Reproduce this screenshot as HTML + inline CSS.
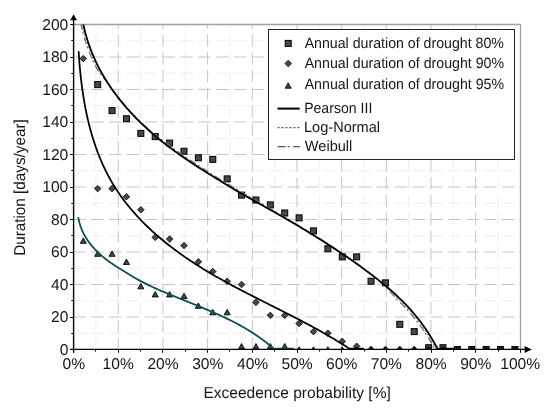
<!DOCTYPE html>
<html><head><meta charset="utf-8"><title>Exceedence probability chart</title>
<style>html,body{margin:0;padding:0;background:#fff;} svg{display:block;}</style></head>
<body>
<svg width="550" height="411" viewBox="0 0 550 411">
<defs><clipPath id="pc"><rect x="74" y="24.5" width="446.5" height="325"/></clipPath>
<clipPath id="pm"><rect x="74" y="24.5" width="446.5" height="324.5"/></clipPath></defs>
<rect width="550" height="411" fill="#fff"/>
<line x1="95.93" y1="24.5" x2="95.93" y2="349" stroke="#eeeeee" stroke-width="1" stroke-dasharray="12.5 5.35" stroke-dashoffset="8.15"/>
<line x1="140.6" y1="24.5" x2="140.6" y2="349" stroke="#eeeeee" stroke-width="1" stroke-dasharray="12.5 5.35" stroke-dashoffset="8.15"/>
<line x1="185.27" y1="24.5" x2="185.27" y2="349" stroke="#eeeeee" stroke-width="1" stroke-dasharray="12.5 5.35" stroke-dashoffset="8.15"/>
<line x1="229.94" y1="24.5" x2="229.94" y2="349" stroke="#eeeeee" stroke-width="1" stroke-dasharray="12.5 5.35" stroke-dashoffset="8.15"/>
<line x1="274.62" y1="24.5" x2="274.62" y2="349" stroke="#eeeeee" stroke-width="1" stroke-dasharray="12.5 5.35" stroke-dashoffset="8.15"/>
<line x1="319.28" y1="24.5" x2="319.28" y2="349" stroke="#eeeeee" stroke-width="1" stroke-dasharray="12.5 5.35" stroke-dashoffset="8.15"/>
<line x1="363.95" y1="24.5" x2="363.95" y2="349" stroke="#eeeeee" stroke-width="1" stroke-dasharray="12.5 5.35" stroke-dashoffset="8.15"/>
<line x1="408.62" y1="24.5" x2="408.62" y2="349" stroke="#eeeeee" stroke-width="1" stroke-dasharray="12.5 5.35" stroke-dashoffset="8.15"/>
<line x1="453.29" y1="24.5" x2="453.29" y2="349" stroke="#eeeeee" stroke-width="1" stroke-dasharray="12.5 5.35" stroke-dashoffset="8.15"/>
<line x1="497.96" y1="24.5" x2="497.96" y2="349" stroke="#eeeeee" stroke-width="1" stroke-dasharray="12.5 5.35" stroke-dashoffset="8.15"/>
<line x1="73.3" y1="333.25" x2="520" y2="333.25" stroke="#eeeeee" stroke-width="1" stroke-dasharray="12.5 5.35"/>
<line x1="73.3" y1="300.75" x2="520" y2="300.75" stroke="#eeeeee" stroke-width="1" stroke-dasharray="12.5 5.35"/>
<line x1="73.3" y1="268.25" x2="520" y2="268.25" stroke="#eeeeee" stroke-width="1" stroke-dasharray="12.5 5.35"/>
<line x1="73.3" y1="235.75" x2="520" y2="235.75" stroke="#eeeeee" stroke-width="1" stroke-dasharray="12.5 5.35"/>
<line x1="73.3" y1="203.25" x2="520" y2="203.25" stroke="#eeeeee" stroke-width="1" stroke-dasharray="12.5 5.35"/>
<line x1="73.3" y1="170.75" x2="520" y2="170.75" stroke="#eeeeee" stroke-width="1" stroke-dasharray="12.5 5.35"/>
<line x1="73.3" y1="138.25" x2="520" y2="138.25" stroke="#eeeeee" stroke-width="1" stroke-dasharray="12.5 5.35"/>
<line x1="73.3" y1="105.75" x2="520" y2="105.75" stroke="#eeeeee" stroke-width="1" stroke-dasharray="12.5 5.35"/>
<line x1="73.3" y1="73.25" x2="520" y2="73.25" stroke="#eeeeee" stroke-width="1" stroke-dasharray="12.5 5.35"/>
<line x1="73.3" y1="40.75" x2="520" y2="40.75" stroke="#eeeeee" stroke-width="1" stroke-dasharray="12.5 5.35"/>
<line x1="118.27" y1="24.5" x2="118.27" y2="349" stroke="#c6c6c6" stroke-width="1" stroke-dasharray="12.5 5.35" stroke-dashoffset="8.15"/>
<line x1="162.94" y1="24.5" x2="162.94" y2="349" stroke="#c6c6c6" stroke-width="1" stroke-dasharray="12.5 5.35" stroke-dashoffset="8.15"/>
<line x1="207.61" y1="24.5" x2="207.61" y2="349" stroke="#c6c6c6" stroke-width="1" stroke-dasharray="12.5 5.35" stroke-dashoffset="8.15"/>
<line x1="252.28" y1="24.5" x2="252.28" y2="349" stroke="#c6c6c6" stroke-width="1" stroke-dasharray="12.5 5.35" stroke-dashoffset="8.15"/>
<line x1="296.95" y1="24.5" x2="296.95" y2="349" stroke="#c6c6c6" stroke-width="1" stroke-dasharray="12.5 5.35" stroke-dashoffset="8.15"/>
<line x1="341.62" y1="24.5" x2="341.62" y2="349" stroke="#c6c6c6" stroke-width="1" stroke-dasharray="12.5 5.35" stroke-dashoffset="8.15"/>
<line x1="386.29" y1="24.5" x2="386.29" y2="349" stroke="#c6c6c6" stroke-width="1" stroke-dasharray="12.5 5.35" stroke-dashoffset="8.15"/>
<line x1="430.96" y1="24.5" x2="430.96" y2="349" stroke="#c6c6c6" stroke-width="1" stroke-dasharray="12.5 5.35" stroke-dashoffset="8.15"/>
<line x1="475.63" y1="24.5" x2="475.63" y2="349" stroke="#c6c6c6" stroke-width="1" stroke-dasharray="12.5 5.35" stroke-dashoffset="8.15"/>
<line x1="73.3" y1="317.0" x2="520" y2="317.0" stroke="#c6c6c6" stroke-width="1" stroke-dasharray="12.5 5.35"/>
<line x1="73.3" y1="284.5" x2="520" y2="284.5" stroke="#c6c6c6" stroke-width="1" stroke-dasharray="12.5 5.35"/>
<line x1="73.3" y1="252.0" x2="520" y2="252.0" stroke="#c6c6c6" stroke-width="1" stroke-dasharray="12.5 5.35"/>
<line x1="73.3" y1="219.5" x2="520" y2="219.5" stroke="#c6c6c6" stroke-width="1" stroke-dasharray="12.5 5.35"/>
<line x1="73.3" y1="187.0" x2="520" y2="187.0" stroke="#c6c6c6" stroke-width="1" stroke-dasharray="12.5 5.35"/>
<line x1="73.3" y1="154.5" x2="520" y2="154.5" stroke="#c6c6c6" stroke-width="1" stroke-dasharray="12.5 5.35"/>
<line x1="73.3" y1="122.0" x2="520" y2="122.0" stroke="#c6c6c6" stroke-width="1" stroke-dasharray="12.5 5.35"/>
<line x1="73.3" y1="89.5" x2="520" y2="89.5" stroke="#c6c6c6" stroke-width="1" stroke-dasharray="12.5 5.35"/>
<line x1="73.3" y1="57.0" x2="520" y2="57.0" stroke="#c6c6c6" stroke-width="1" stroke-dasharray="12.5 5.35"/>
<line x1="73.5" y1="24.5" x2="521" y2="24.5" stroke="#a0a0a0" stroke-width="1.3"/>
<line x1="520.5" y1="24" x2="520.5" y2="349.5" stroke="#a0a0a0" stroke-width="1.3"/>
<g clip-path="url(#pm)">
<rect x="94.68" y="81.62" width="6" height="6" fill="#484848" stroke="#000" stroke-width="1"/>
<rect x="109.06" y="107.62" width="6" height="6" fill="#484848" stroke="#000" stroke-width="1"/>
<rect x="123.45" y="115.75" width="6" height="6" fill="#484848" stroke="#000" stroke-width="1"/>
<rect x="137.84" y="130.38" width="6" height="6" fill="#484848" stroke="#000" stroke-width="1"/>
<rect x="152.23" y="133.62" width="6" height="6" fill="#484848" stroke="#000" stroke-width="1"/>
<rect x="166.62" y="140.12" width="6" height="6" fill="#484848" stroke="#000" stroke-width="1"/>
<rect x="181.00" y="148.25" width="6" height="6" fill="#484848" stroke="#000" stroke-width="1"/>
<rect x="195.39" y="154.75" width="6" height="6" fill="#484848" stroke="#000" stroke-width="1"/>
<rect x="209.78" y="156.38" width="6" height="6" fill="#484848" stroke="#000" stroke-width="1"/>
<rect x="224.17" y="175.88" width="6" height="6" fill="#484848" stroke="#000" stroke-width="1"/>
<rect x="238.56" y="192.12" width="6" height="6" fill="#484848" stroke="#000" stroke-width="1"/>
<rect x="252.94" y="197.00" width="6" height="6" fill="#484848" stroke="#000" stroke-width="1"/>
<rect x="267.33" y="201.88" width="6" height="6" fill="#484848" stroke="#000" stroke-width="1"/>
<rect x="281.72" y="210.00" width="6" height="6" fill="#484848" stroke="#000" stroke-width="1"/>
<rect x="296.11" y="214.88" width="6" height="6" fill="#484848" stroke="#000" stroke-width="1"/>
<rect x="310.50" y="227.88" width="6" height="6" fill="#484848" stroke="#000" stroke-width="1"/>
<rect x="324.88" y="245.75" width="6" height="6" fill="#484848" stroke="#000" stroke-width="1"/>
<rect x="339.27" y="253.88" width="6" height="6" fill="#484848" stroke="#000" stroke-width="1"/>
<rect x="353.66" y="253.88" width="6" height="6" fill="#484848" stroke="#000" stroke-width="1"/>
<rect x="368.05" y="278.25" width="6" height="6" fill="#484848" stroke="#000" stroke-width="1"/>
<rect x="382.44" y="279.88" width="6" height="6" fill="#484848" stroke="#000" stroke-width="1"/>
<rect x="396.82" y="321.31" width="6" height="6" fill="#484848" stroke="#000" stroke-width="1"/>
<rect x="411.21" y="328.62" width="6" height="6" fill="#484848" stroke="#000" stroke-width="1"/>
<rect x="425.60" y="344.71" width="6" height="6" fill="#484848" stroke="#000" stroke-width="1"/>
<rect x="439.99" y="344.71" width="6" height="6" fill="#484848" stroke="#000" stroke-width="1"/>
<rect x="454.38" y="346.50" width="6" height="6" fill="#484848" stroke="#000" stroke-width="1"/>
<rect x="468.76" y="346.50" width="6" height="6" fill="#484848" stroke="#000" stroke-width="1"/>
<rect x="483.15" y="346.50" width="6" height="6" fill="#484848" stroke="#000" stroke-width="1"/>
<rect x="497.54" y="346.50" width="6" height="6" fill="#484848" stroke="#000" stroke-width="1"/>
<rect x="511.93" y="346.50" width="6" height="6" fill="#484848" stroke="#000" stroke-width="1"/>
<path d="M83.29,55.38 L86.54,58.62 L83.29,61.88 L80.04,58.62 Z" fill="#484848" stroke="#111" stroke-width="0.9"/>
<path d="M97.68,185.38 L100.93,188.62 L97.68,191.88 L94.43,188.62 Z" fill="#484848" stroke="#111" stroke-width="0.9"/>
<path d="M112.06,185.38 L115.31,188.62 L112.06,191.88 L108.81,188.62 Z" fill="#484848" stroke="#111" stroke-width="0.9"/>
<path d="M126.45,193.50 L129.70,196.75 L126.45,200.00 L123.20,196.75 Z" fill="#484848" stroke="#111" stroke-width="0.9"/>
<path d="M140.84,206.50 L144.09,209.75 L140.84,213.00 L137.59,209.75 Z" fill="#484848" stroke="#111" stroke-width="0.9"/>
<path d="M155.23,234.12 L158.48,237.38 L155.23,240.62 L151.98,237.38 Z" fill="#484848" stroke="#111" stroke-width="0.9"/>
<path d="M169.62,235.75 L172.87,239.00 L169.62,242.25 L166.37,239.00 Z" fill="#484848" stroke="#111" stroke-width="0.9"/>
<path d="M184.00,242.25 L187.25,245.50 L184.00,248.75 L180.75,245.50 Z" fill="#484848" stroke="#111" stroke-width="0.9"/>
<path d="M198.39,258.50 L201.64,261.75 L198.39,265.00 L195.14,261.75 Z" fill="#484848" stroke="#111" stroke-width="0.9"/>
<path d="M212.78,268.25 L216.03,271.50 L212.78,274.75 L209.53,271.50 Z" fill="#484848" stroke="#111" stroke-width="0.9"/>
<path d="M227.17,278.00 L230.42,281.25 L227.17,284.50 L223.92,281.25 Z" fill="#484848" stroke="#111" stroke-width="0.9"/>
<path d="M241.56,281.25 L244.81,284.50 L241.56,287.75 L238.31,284.50 Z" fill="#484848" stroke="#111" stroke-width="0.9"/>
<path d="M255.94,299.12 L259.19,302.38 L255.94,305.62 L252.69,302.38 Z" fill="#484848" stroke="#111" stroke-width="0.9"/>
<path d="M270.33,312.12 L273.58,315.38 L270.33,318.62 L267.08,315.38 Z" fill="#484848" stroke="#111" stroke-width="0.9"/>
<path d="M284.72,312.12 L287.97,315.38 L284.72,318.62 L281.47,315.38 Z" fill="#484848" stroke="#111" stroke-width="0.9"/>
<path d="M299.11,320.25 L302.36,323.50 L299.11,326.75 L295.86,323.50 Z" fill="#484848" stroke="#111" stroke-width="0.9"/>
<path d="M313.50,328.38 L316.75,331.62 L313.50,334.88 L310.25,331.62 Z" fill="#484848" stroke="#111" stroke-width="0.9"/>
<path d="M327.88,330.00 L331.13,333.25 L327.88,336.50 L324.63,333.25 Z" fill="#484848" stroke="#111" stroke-width="0.9"/>
<path d="M342.27,338.12 L345.52,341.38 L342.27,344.62 L339.02,341.38 Z" fill="#484848" stroke="#111" stroke-width="0.9"/>
<path d="M356.66,343.00 L359.91,346.25 L356.66,349.50 L353.41,346.25 Z" fill="#484848" stroke="#111" stroke-width="0.9"/>
<path d="M371.05,346.25 L374.30,349.50 L371.05,352.75 L367.80,349.50 Z" fill="#484848" stroke="#111" stroke-width="0.9"/>
<path d="M385.44,346.25 L388.69,349.50 L385.44,352.75 L382.19,349.50 Z" fill="#484848" stroke="#111" stroke-width="0.9"/>
<path d="M399.82,346.25 L403.07,349.50 L399.82,352.75 L396.57,349.50 Z" fill="#484848" stroke="#111" stroke-width="0.9"/>
<path d="M414.21,346.25 L417.46,349.50 L414.21,352.75 L410.96,349.50 Z" fill="#484848" stroke="#111" stroke-width="0.9"/>
<path d="M428.60,346.25 L431.85,349.50 L428.60,352.75 L425.35,349.50 Z" fill="#484848" stroke="#111" stroke-width="0.9"/>
<path d="M442.99,346.25 L446.24,349.50 L442.99,352.75 L439.74,349.50 Z" fill="#484848" stroke="#111" stroke-width="0.9"/>
<path d="M457.38,346.25 L460.63,349.50 L457.38,352.75 L454.13,349.50 Z" fill="#484848" stroke="#111" stroke-width="0.9"/>
<path d="M471.76,346.25 L475.01,349.50 L471.76,352.75 L468.51,349.50 Z" fill="#484848" stroke="#111" stroke-width="0.9"/>
<path d="M486.15,346.25 L489.40,349.50 L486.15,352.75 L482.90,349.50 Z" fill="#484848" stroke="#111" stroke-width="0.9"/>
<path d="M500.54,346.25 L503.79,349.50 L500.54,352.75 L497.29,349.50 Z" fill="#484848" stroke="#111" stroke-width="0.9"/>
<path d="M514.93,346.25 L518.18,349.50 L514.93,352.75 L511.68,349.50 Z" fill="#484848" stroke="#111" stroke-width="0.9"/>
<path d="M83.29,237.93 L86.29,243.32 L80.29,243.32 Z" fill="#484848" stroke="#000" stroke-width="0.9"/>
<path d="M97.68,250.93 L100.68,256.32 L94.68,256.32 Z" fill="#484848" stroke="#000" stroke-width="0.9"/>
<path d="M112.06,250.93 L115.06,256.32 L109.06,256.32 Z" fill="#484848" stroke="#000" stroke-width="0.9"/>
<path d="M126.45,259.05 L129.45,264.45 L123.45,264.45 Z" fill="#484848" stroke="#000" stroke-width="0.9"/>
<path d="M140.84,283.43 L143.84,288.82 L137.84,288.82 Z" fill="#484848" stroke="#000" stroke-width="0.9"/>
<path d="M155.23,291.55 L158.23,296.95 L152.23,296.95 Z" fill="#484848" stroke="#000" stroke-width="0.9"/>
<path d="M169.62,291.55 L172.62,296.95 L166.62,296.95 Z" fill="#484848" stroke="#000" stroke-width="0.9"/>
<path d="M184.00,293.18 L187.00,298.57 L181.00,298.57 Z" fill="#484848" stroke="#000" stroke-width="0.9"/>
<path d="M198.39,302.93 L201.39,308.32 L195.39,308.32 Z" fill="#484848" stroke="#000" stroke-width="0.9"/>
<path d="M212.78,309.43 L215.78,314.82 L209.78,314.82 Z" fill="#484848" stroke="#000" stroke-width="0.9"/>
<path d="M227.17,309.43 L230.17,314.82 L224.17,314.82 Z" fill="#484848" stroke="#000" stroke-width="0.9"/>
<path d="M241.56,343.55 L244.56,348.95 L238.56,348.95 Z" fill="#484848" stroke="#000" stroke-width="0.9"/>
<path d="M255.94,343.55 L258.94,348.95 L252.94,348.95 Z" fill="#484848" stroke="#000" stroke-width="0.9"/>
<path d="M270.33,343.55 L273.33,348.95 L267.33,348.95 Z" fill="#484848" stroke="#000" stroke-width="0.9"/>
<path d="M284.72,343.55 L287.72,348.95 L281.72,348.95 Z" fill="#484848" stroke="#000" stroke-width="0.9"/>
<path d="M299.11,346.80 L302.11,352.20 L296.11,352.20 Z" fill="#484848" stroke="#000" stroke-width="0.9"/>
<path d="M313.50,346.80 L316.50,352.20 L310.50,352.20 Z" fill="#484848" stroke="#000" stroke-width="0.9"/>
<path d="M327.88,346.80 L330.88,352.20 L324.88,352.20 Z" fill="#484848" stroke="#000" stroke-width="0.9"/>
<path d="M342.27,346.80 L345.27,352.20 L339.27,352.20 Z" fill="#484848" stroke="#000" stroke-width="0.9"/>
<path d="M356.66,346.80 L359.66,352.20 L353.66,352.20 Z" fill="#484848" stroke="#000" stroke-width="0.9"/>
<path d="M371.05,346.80 L374.05,352.20 L368.05,352.20 Z" fill="#484848" stroke="#000" stroke-width="0.9"/>
<path d="M385.44,346.80 L388.44,352.20 L382.44,352.20 Z" fill="#484848" stroke="#000" stroke-width="0.9"/>
<path d="M399.82,346.80 L402.82,352.20 L396.82,352.20 Z" fill="#484848" stroke="#000" stroke-width="0.9"/>
<path d="M414.21,346.80 L417.21,352.20 L411.21,352.20 Z" fill="#484848" stroke="#000" stroke-width="0.9"/>
<path d="M428.60,346.80 L431.60,352.20 L425.60,352.20 Z" fill="#484848" stroke="#000" stroke-width="0.9"/>
<path d="M442.99,346.80 L445.99,352.20 L439.99,352.20 Z" fill="#484848" stroke="#000" stroke-width="0.9"/>
<path d="M457.38,346.80 L460.38,352.20 L454.38,352.20 Z" fill="#484848" stroke="#000" stroke-width="0.9"/>
<path d="M471.76,346.80 L474.76,352.20 L468.76,352.20 Z" fill="#484848" stroke="#000" stroke-width="0.9"/>
<path d="M486.15,346.80 L489.15,352.20 L483.15,352.20 Z" fill="#484848" stroke="#000" stroke-width="0.9"/>
<path d="M500.54,346.80 L503.54,352.20 L497.54,352.20 Z" fill="#484848" stroke="#000" stroke-width="0.9"/>
<path d="M514.93,346.80 L517.93,352.20 L511.93,352.20 Z" fill="#484848" stroke="#000" stroke-width="0.9"/>
</g>
<g clip-path="url(#pc)" fill="none" stroke-linejoin="round" stroke-linecap="round">
<path d="M81.76,22.72 L82.22,24.99 L82.70,27.27 L83.22,29.53 L83.78,31.78 L84.36,34.01 L84.97,36.23 L85.62,38.44 L86.29,40.63 L86.99,42.82 L87.72,44.98 L88.49,47.14 L89.27,49.28 L90.09,51.41 L90.94,53.52 L91.81,55.62 L92.71,57.71 L93.64,59.78 L94.59,61.84 L95.57,63.89 L96.57,65.92 L97.63,67.92 L98.76,69.89 L99.95,71.82 L101.18,73.72 L102.44,75.60 L103.73,77.46 L105.03,79.31 L106.34,81.15 L107.65,82.98 L108.95,84.82 L110.24,86.67 L111.53,88.51 L112.85,90.33 L114.18,92.15 L115.53,93.95 L116.90,95.74 L118.28,97.51 L119.68,99.28 L121.10,101.03 L122.54,102.77 L123.99,104.49 L125.46,106.20 L126.94,107.90 L128.44,109.58 L129.96,111.25 L131.49,112.91 L133.04,114.55 L134.60,116.18 L136.18,117.79 L137.77,119.39 L139.38,120.98 L141.00,122.55 L142.63,124.10 L144.28,125.64 L145.94,127.17 L147.61,128.68 L149.30,130.18 L151.00,131.65 L152.71,133.11 L154.44,134.55 L156.17,135.98 L157.92,137.39 L159.68,138.79 L161.44,140.17 L163.21,141.54 L164.99,142.90 L166.78,144.26 L168.57,145.60 L170.36,146.93 L172.16,148.26 L173.96,149.58 L175.77,150.90 L177.58,152.20 L179.40,153.50 L181.23,154.78 L183.07,156.06 L184.91,157.33 L186.76,158.59 L188.61,159.84 L190.47,161.09 L192.34,162.33 L194.21,163.56 L196.08,164.79 L197.96,166.01 L199.85,167.22 L201.74,168.44 L203.64,169.64 L205.54,170.85 L207.44,172.05 L209.35,173.25 L211.26,174.44 L213.17,175.64 L215.09,176.83 L217.01,178.02 L218.93,179.21 L220.86,180.39 L222.79,181.58 L224.72,182.76 L226.65,183.93 L228.59,185.11 L230.53,186.28 L232.47,187.44 L234.42,188.61 L236.37,189.76 L238.32,190.91 L240.27,192.06 L242.23,193.20 L244.19,194.33 L246.15,195.46 L248.12,196.58 L250.09,197.70 L252.06,198.81 L254.03,199.92 L256.00,201.04 L257.97,202.15 L259.94,203.26 L261.91,204.37 L263.88,205.49 L265.85,206.60 L267.82,207.72 L269.79,208.85 L271.75,209.97 L273.71,211.10 L275.67,212.23 L277.63,213.37 L279.59,214.51 L281.54,215.65 L283.50,216.80 L285.45,217.94 L287.40,219.09 L289.34,220.25 L291.29,221.40 L293.23,222.56 L295.18,223.73 L297.12,224.89 L299.05,226.06 L300.99,227.23 L302.93,228.40 L304.86,229.58 L306.79,230.76 L308.72,231.94 L310.65,233.12 L312.57,234.31 L314.50,235.51 L316.42,236.70 L318.33,237.91 L320.25,239.11 L322.16,240.32 L324.07,241.54 L325.97,242.76 L327.87,243.98 L329.77,245.21 L331.67,246.45 L333.56,247.69 L335.45,248.93 L337.33,250.18 L339.21,251.44 L341.09,252.70 L342.97,253.97 L344.84,255.25 L346.70,256.53 L348.56,257.81 L350.42,259.11 L352.28,260.41 L354.12,261.71 L355.97,263.02 L357.81,264.34 L359.64,265.67 L361.47,267.01 L363.30,268.35 L365.12,269.70 L366.93,271.06 L368.73,272.43 L370.52,273.82 L372.30,275.23 L374.06,276.65 L375.82,278.09 L377.56,279.54 L379.29,281.00 L381.01,282.47 L382.72,283.95 L384.42,285.44 L386.09,286.95 L387.75,288.49 L389.37,290.05 L390.98,291.62 L392.57,293.21 L394.16,294.81 L395.73,296.41 L397.30,298.00 L398.88,299.59 L400.47,301.16 L402.05,302.73 L403.62,304.32 L405.16,305.92 L406.69,307.54 L408.20,309.17 L409.69,310.83 L411.16,312.50 L412.60,314.19 L414.03,315.89 L415.44,317.61 L416.83,319.35 L418.19,321.11 L419.54,322.88 L420.87,324.68 L422.17,326.48 L423.46,328.31 L424.73,330.15 L425.97,332.00 L427.20,333.87 L428.41,335.76 L429.61,337.66 L430.78,339.57 L431.94,341.50 L433.08,343.44 L434.20,345.40 L435.30,347.37 L436.39,349.37 L452,348.8" stroke="#7a7a7a" stroke-width="1" stroke-linecap="butt" stroke-dasharray="2 2"/>
<path d="M80.75,22.92 L81.20,25.20 L81.69,27.49 L82.22,29.77 L82.77,32.03 L83.36,34.28 L83.98,36.52 L84.62,38.74 L85.30,40.95 L86.01,43.14 L86.75,45.32 L87.51,47.49 L88.31,49.64 L89.13,51.78 L89.98,53.91 L90.86,56.02 L91.76,58.12 L92.69,60.21 L93.65,62.28 L94.64,64.34 L95.65,66.38 L96.74,68.38 L97.94,70.32 L99.22,72.22 L100.56,74.07 L101.94,75.89 L103.35,77.69 L104.77,79.47 L106.18,81.25 L107.57,83.03 L108.93,84.84 L110.24,86.66 L111.56,88.49 L112.90,90.30 L114.25,92.10 L115.61,93.89 L116.99,95.67 L118.39,97.43 L119.80,99.19 L121.23,100.93 L122.67,102.66 L124.13,104.37 L125.61,106.08 L127.10,107.77 L128.60,109.44 L130.12,111.10 L131.66,112.75 L133.21,114.39 L134.78,116.01 L136.36,117.61 L137.96,119.20 L139.57,120.78 L141.20,122.34 L142.84,123.88 L144.50,125.41 L146.16,126.93 L147.85,128.42 L149.54,129.90 L151.25,131.36 L152.98,132.80 L154.72,134.22 L156.48,135.62 L158.24,137.01 L160.01,138.38 L161.79,139.74 L163.58,141.08 L165.37,142.42 L167.16,143.75 L168.96,145.08 L170.76,146.40 L172.56,147.72 L174.36,149.04 L176.16,150.35 L177.97,151.65 L179.79,152.95 L181.62,154.23 L183.45,155.51 L185.29,156.77 L187.13,158.03 L188.98,159.28 L190.84,160.53 L192.70,161.77 L194.57,163.00 L196.45,164.23 L198.32,165.45 L200.21,166.67 L202.10,167.88 L203.99,169.09 L205.89,170.29 L207.79,171.49 L209.69,172.69 L211.60,173.89 L213.51,175.08 L215.43,176.28 L217.35,177.47 L219.27,178.66 L221.19,179.85 L223.12,181.03 L225.05,182.22 L226.98,183.40 L228.91,184.57 L230.85,185.74 L232.79,186.91 L234.73,188.07 L236.68,189.23 L238.63,190.39 L240.58,191.53 L242.53,192.67 L244.49,193.81 L246.45,194.94 L248.41,196.06 L250.38,197.18 L252.34,198.30 L254.31,199.42 L256.28,200.53 L258.25,201.65 L260.22,202.77 L262.18,203.89 L264.15,205.01 L266.11,206.14 L268.08,207.27 L270.04,208.40 L271.99,209.54 L273.95,210.68 L275.90,211.83 L277.86,212.98 L279.81,214.13 L281.75,215.29 L283.70,216.44 L285.64,217.61 L287.58,218.77 L289.53,219.94 L291.46,221.11 L293.40,222.28 L295.34,223.45 L297.27,224.63 L299.21,225.80 L301.14,226.98 L303.07,228.16 L305.00,229.35 L306.93,230.53 L308.86,231.72 L310.78,232.91 L312.70,234.10 L314.63,235.30 L316.54,236.50 L318.46,237.70 L320.37,238.91 L322.28,240.13 L324.19,241.35 L326.09,242.57 L327.99,243.80 L329.89,245.03 L331.79,246.27 L333.68,247.51 L335.57,248.76 L337.45,250.01 L339.33,251.27 L341.21,252.53 L343.08,253.80 L344.95,255.08 L346.81,256.37 L348.67,257.66 L350.53,258.95 L352.38,260.26 L354.23,261.57 L356.07,262.88 L357.91,264.21 L359.74,265.54 L361.56,266.88 L363.39,268.23 L365.20,269.59 L367.01,270.96 L368.79,272.35 L370.56,273.77 L372.32,275.21 L374.05,276.67 L375.78,278.14 L377.48,279.63 L379.18,281.14 L380.86,282.66 L382.53,284.18 L384.18,285.72 L385.81,287.28 L387.41,288.88 L388.97,290.52 L390.50,292.17 L392.02,293.84 L393.52,295.50 L395.03,297.16 L396.54,298.81 L398.08,300.42 L399.65,301.99 L401.22,303.55 L402.78,305.13 L404.32,306.73 L405.84,308.34 L407.34,309.96 L408.81,311.60 L410.27,313.26 L411.71,314.94 L413.13,316.64 L414.53,318.35 L415.91,320.08 L417.27,321.82 L418.61,323.59 L419.92,325.37 L421.22,327.16 L422.50,328.98 L423.76,330.80 L425.00,332.65 L426.22,334.51 L427.43,336.38 L428.63,338.26 L429.81,340.16 L430.97,342.07 L432.11,343.99 L433.24,345.93 L434.35,347.88 L435.45,349.86 L452,348.8" stroke="#6a6a6a" stroke-width="1.15" stroke-linecap="butt" stroke-dasharray="7 2.5 2 3.5"/>
<path d="M83.00,22.47 L83.46,24.74 L83.94,26.99 L84.46,29.24 L85.00,31.47 L85.58,33.68 L86.19,35.89 L86.83,38.08 L87.50,40.26 L88.19,42.42 L88.92,44.57 L89.68,46.71 L90.46,48.83 L91.27,50.94 L92.11,53.04 L92.98,55.13 L93.87,57.20 L94.79,59.26 L95.73,61.30 L96.70,63.34 L97.70,65.35 L98.72,67.36 L99.77,69.35 L100.84,71.33 L101.93,73.30 L103.05,75.25 L104.19,77.19 L105.35,79.11 L106.54,81.02 L107.75,82.92 L108.98,84.80 L110.23,86.67 L111.50,88.53 L112.79,90.38 L114.10,92.21 L115.43,94.02 L116.78,95.82 L118.15,97.61 L119.54,99.39 L120.95,101.15 L122.38,102.90 L123.82,104.63 L125.28,106.36 L126.76,108.06 L128.25,109.76 L129.76,111.44 L131.28,113.10 L132.83,114.75 L134.38,116.39 L135.95,118.02 L137.54,119.63 L139.13,121.22 L140.75,122.81 L142.37,124.37 L144.01,125.93 L145.66,127.47 L147.32,129.00 L149.00,130.51 L150.68,132.01 L152.38,133.49 L154.09,134.96 L155.80,136.42 L157.53,137.86 L159.27,139.29 L161.01,140.71 L162.77,142.11 L164.53,143.49 L166.30,144.87 L168.08,146.23 L169.87,147.58 L171.67,148.92 L173.47,150.25 L175.28,151.57 L177.10,152.87 L178.93,154.17 L180.76,155.46 L182.60,156.74 L184.44,158.01 L186.30,159.27 L188.15,160.52 L190.02,161.77 L191.89,163.01 L193.76,164.24 L195.64,165.47 L197.52,166.69 L199.41,167.90 L201.31,169.12 L203.21,170.32 L205.11,171.53 L207.01,172.73 L208.92,173.92 L210.84,175.12 L212.75,176.31 L214.67,177.50 L216.60,178.69 L218.52,179.87 L220.45,181.06 L222.38,182.24 L224.32,183.42 L226.25,184.59 L228.19,185.76 L230.14,186.93 L232.08,188.10 L234.03,189.25 L235.99,190.41 L237.94,191.56 L239.90,192.70 L241.86,193.84 L243.82,194.97 L245.79,196.09 L247.76,197.21 L249.73,198.33 L251.71,199.44 L253.68,200.55 L255.66,201.65 L257.63,202.76 L259.61,203.86 L261.58,204.96 L263.56,206.07 L265.54,207.17 L267.51,208.28 L269.48,209.39 L271.45,210.50 L273.42,211.61 L275.39,212.73 L277.36,213.85 L279.32,214.97 L281.29,216.10 L283.25,217.22 L285.21,218.35 L287.17,219.49 L289.12,220.63 L291.08,221.77 L293.03,222.91 L294.98,224.06 L296.92,225.21 L298.87,226.37 L300.81,227.53 L302.75,228.69 L304.69,229.86 L306.62,231.03 L308.56,232.21 L310.49,233.39 L312.41,234.57 L314.34,235.76 L316.26,236.95 L318.18,238.15 L320.09,239.35 L322.01,240.56 L323.92,241.77 L325.82,242.99 L327.73,244.21 L329.63,245.44 L331.52,246.67 L333.42,247.91 L335.30,249.15 L337.19,250.40 L339.07,251.65 L340.95,252.91 L342.83,254.18 L344.70,255.45 L346.57,256.72 L348.43,258.01 L350.29,259.29 L352.15,260.59 L354.00,261.89 L355.85,263.20 L357.69,264.51 L359.53,265.83 L361.36,267.16 L363.20,268.49 L365.02,269.83 L366.84,271.18 L368.66,272.53 L370.47,273.89 L372.28,275.26 L374.08,276.64 L375.87,278.02 L377.65,279.42 L379.43,280.82 L381.20,282.23 L382.95,283.66 L384.70,285.09 L386.44,286.54 L388.16,288.00 L389.87,289.47 L391.57,290.95 L393.26,292.45 L394.93,293.96 L396.59,295.48 L398.23,297.02 L399.86,298.57 L401.47,300.14 L403.06,301.72 L404.64,303.32 L406.20,304.93 L407.74,306.56 L409.26,308.21 L410.76,309.88 L412.24,311.56 L413.70,313.26 L415.13,314.98 L416.55,316.72 L417.95,318.47 L419.33,320.24 L420.69,322.03 L422.02,323.83 L423.34,325.65 L424.63,327.49 L425.91,329.34 L427.16,331.21 L428.40,333.10 L429.61,335.00 L430.81,336.92 L431.98,338.85 L433.13,340.80 L434.26,342.77 L435.38,344.75 L436.47,346.74 L437.54,348.75 L454,348.7" stroke="#000" stroke-width="1.75"/>
<path d="M78.68,51.80 L78.80,53.73 L78.92,55.66 L79.05,57.59 L79.19,59.52 L79.33,61.46 L79.48,63.40 L79.64,65.34 L79.81,67.29 L79.99,69.24 L80.17,71.19 L80.36,73.14 L80.57,75.09 L80.78,77.05 L80.99,79.00 L81.22,80.96 L81.46,82.91 L81.71,84.87 L81.96,86.83 L82.23,88.79 L82.50,90.74 L82.79,92.70 L83.09,94.66 L83.39,96.61 L83.71,98.57 L84.04,100.52 L84.38,102.47 L84.73,104.42 L85.09,106.37 L85.46,108.31 L85.85,110.26 L86.24,112.20 L86.65,114.13 L87.07,116.07 L87.50,118.00 L87.95,119.93 L88.40,121.85 L88.87,123.77 L89.36,125.69 L89.85,127.60 L90.36,129.51 L90.89,131.41 L91.42,133.31 L91.97,135.20 L92.54,137.08 L93.12,138.97 L93.71,140.84 L94.32,142.71 L94.94,144.57 L95.57,146.43 L96.22,148.28 L96.89,150.12 L97.57,151.96 L98.27,153.78 L98.98,155.61 L99.71,157.42 L100.46,159.22 L101.22,161.02 L101.99,162.81 L102.79,164.59 L103.60,166.36 L104.42,168.12 L105.27,169.87 L106.13,171.61 L107.01,173.34 L107.90,175.07 L108.82,176.78 L109.75,178.48 L110.70,180.17 L111.66,181.85 L112.65,183.52 L113.65,185.18 L114.67,186.83 L115.71,188.46 L116.77,190.09 L117.84,191.70 L118.93,193.31 L120.04,194.90 L121.16,196.48 L122.30,198.05 L123.46,199.61 L124.63,201.16 L125.81,202.70 L127.02,204.23 L128.23,205.75 L129.46,207.26 L130.71,208.75 L131.97,210.24 L133.24,211.71 L134.53,213.18 L135.83,214.63 L137.14,216.07 L138.47,217.51 L139.81,218.93 L141.16,220.34 L142.53,221.74 L143.90,223.13 L145.29,224.52 L146.69,225.89 L148.10,227.25 L149.52,228.60 L150.96,229.94 L152.40,231.27 L153.86,232.59 L155.32,233.90 L156.79,235.19 L158.28,236.48 L159.77,237.76 L161.27,239.03 L162.79,240.29 L164.31,241.54 L165.83,242.78 L167.37,244.01 L168.92,245.23 L170.47,246.43 L172.03,247.63 L173.60,248.82 L175.17,250.00 L176.75,251.17 L178.34,252.33 L179.93,253.48 L181.53,254.62 L183.14,255.75 L184.75,256.88 L186.37,257.99 L187.99,259.09 L189.62,260.19 L191.25,261.27 L192.89,262.35 L194.53,263.42 L196.18,264.48 L197.84,265.53 L199.49,266.58 L201.16,267.61 L202.83,268.64 L204.50,269.67 L206.17,270.68 L207.85,271.69 L209.54,272.69 L211.23,273.69 L212.92,274.68 L214.62,275.66 L216.32,276.64 L218.02,277.61 L219.73,278.57 L221.44,279.53 L223.15,280.49 L224.86,281.44 L226.58,282.38 L228.31,283.32 L230.03,284.26 L231.76,285.19 L233.49,286.12 L235.22,287.04 L236.95,287.96 L238.69,288.88 L240.43,289.79 L242.17,290.70 L243.91,291.61 L245.65,292.51 L247.40,293.41 L249.15,294.31 L250.89,295.21 L252.64,296.10 L254.39,297.00 L256.15,297.89 L257.90,298.77 L259.65,299.66 L261.41,300.55 L263.16,301.43 L264.92,302.32 L266.67,303.20 L268.43,304.09 L270.18,304.97 L271.94,305.85 L273.69,306.74 L275.45,307.62 L277.20,308.50 L278.96,309.39 L280.71,310.27 L282.47,311.16 L284.22,312.05 L285.97,312.94 L287.72,313.83 L289.47,314.72 L291.22,315.61 L292.96,316.51 L294.71,317.41 L296.45,318.31 L298.20,319.21 L299.94,320.12 L301.67,321.03 L303.41,321.94 L305.14,322.86 L306.88,323.78 L308.61,324.70 L310.33,325.63 L312.06,326.56 L313.78,327.49 L315.50,328.43 L317.21,329.38 L318.92,330.33 L320.63,331.28 L322.34,332.24 L324.04,333.21 L325.74,334.18 L327.44,335.16 L329.13,336.14 L330.82,337.13 L332.50,338.12 L334.18,339.12 L335.86,340.13 L337.53,341.15 L339.20,342.17 L340.86,343.20 L342.52,344.23 L344.17,345.28 L345.82,346.33 L347.46,347.39 L349.10,348.46 L363,348.7" stroke="#000" stroke-width="1.75"/>
<path d="M78.42,217.98 L78.63,219.11 L78.86,220.24 L79.11,221.35 L79.38,222.45 L79.68,223.54 L80.00,224.62 L80.34,225.69 L80.70,226.75 L81.09,227.80 L81.49,228.84 L81.91,229.86 L82.35,230.88 L82.82,231.88 L83.30,232.88 L83.79,233.86 L84.31,234.84 L84.84,235.80 L85.40,236.75 L85.96,237.69 L86.55,238.63 L87.15,239.55 L87.76,240.46 L88.39,241.36 L89.04,242.25 L89.70,243.13 L90.37,244.00 L91.05,244.86 L91.75,245.71 L92.47,246.55 L93.19,247.38 L93.93,248.20 L94.67,249.02 L95.43,249.82 L96.20,250.61 L96.98,251.39 L97.77,252.16 L98.57,252.92 L99.38,253.68 L100.20,254.42 L101.02,255.15 L101.85,255.88 L102.69,256.59 L103.54,257.30 L104.39,257.99 L105.25,258.68 L106.12,259.36 L106.99,260.03 L107.87,260.68 L108.75,261.33 L109.63,261.98 L110.52,262.61 L111.41,263.23 L112.31,263.84 L113.21,264.45 L114.11,265.04 L115.01,265.63 L115.91,266.21 L116.81,266.78 L117.72,267.35 L118.63,267.91 L119.53,268.47 L120.44,269.03 L121.35,269.59 L122.25,270.15 L123.16,270.71 L124.06,271.27 L124.97,271.84 L125.88,272.40 L126.78,272.97 L127.69,273.54 L128.60,274.10 L129.52,274.67 L130.43,275.23 L131.35,275.79 L132.27,276.35 L133.19,276.90 L134.12,277.45 L135.06,278.00 L135.99,278.54 L136.94,279.07 L137.88,279.60 L138.83,280.12 L139.79,280.64 L140.75,281.16 L141.71,281.67 L142.68,282.17 L143.65,282.67 L144.63,283.17 L145.60,283.66 L146.58,284.15 L147.57,284.63 L148.56,285.11 L149.55,285.59 L150.54,286.06 L151.54,286.53 L152.54,286.99 L153.54,287.46 L154.54,287.92 L155.55,288.37 L156.56,288.82 L157.57,289.27 L158.58,289.72 L159.60,290.17 L160.61,290.61 L161.63,291.05 L162.65,291.49 L163.67,291.92 L164.69,292.36 L165.71,292.79 L166.74,293.22 L167.76,293.65 L168.78,294.08 L169.81,294.50 L170.83,294.93 L171.86,295.35 L172.89,295.77 L173.92,296.19 L174.94,296.61 L175.97,297.03 L177.00,297.45 L178.03,297.87 L179.06,298.29 L180.09,298.70 L181.12,299.12 L182.15,299.53 L183.18,299.95 L184.21,300.36 L185.24,300.78 L186.27,301.19 L187.29,301.61 L188.32,302.02 L189.35,302.43 L190.38,302.85 L191.41,303.26 L192.44,303.68 L193.47,304.09 L194.50,304.51 L195.52,304.93 L196.55,305.34 L197.58,305.76 L198.60,306.18 L199.63,306.60 L200.65,307.02 L201.67,307.45 L202.70,307.87 L203.72,308.29 L204.74,308.72 L205.76,309.15 L206.78,309.58 L207.80,310.01 L208.81,310.44 L209.83,310.87 L210.85,311.31 L211.86,311.75 L212.87,312.19 L213.88,312.63 L214.90,313.07 L215.90,313.52 L216.91,313.97 L217.92,314.42 L218.92,314.87 L219.93,315.33 L220.93,315.79 L221.93,316.25 L222.93,316.72 L223.92,317.18 L224.92,317.65 L225.91,318.13 L226.90,318.60 L227.89,319.08 L228.88,319.57 L229.87,320.05 L230.85,320.54 L231.83,321.04 L232.81,321.53 L233.79,322.04 L234.77,322.54 L235.74,323.05 L236.71,323.56 L237.68,324.08 L238.65,324.60 L239.61,325.12 L240.57,325.65 L241.53,326.19 L242.49,326.73 L243.44,327.27 L244.40,327.82 L245.35,328.37 L246.29,328.93 L247.24,329.49 L248.18,330.05 L249.12,330.63 L250.05,331.20 L250.98,331.79 L251.91,332.37 L252.84,332.97 L253.76,333.56 L254.68,334.17 L255.60,334.78 L256.52,335.39 L257.43,336.01 L258.33,336.64 L259.24,337.27 L260.14,337.91 L261.04,338.56 L261.93,339.21 L262.82,339.87 L263.71,340.53 L264.60,341.20 L265.48,341.88 L266.35,342.56 L267.23,343.25 L268.09,343.95 L268.96,344.65 L269.82,345.36 L270.68,346.08 L271.53,346.80 L272.38,347.53 L273.23,348.27 Q275,349 277,348.7 L293,348.7" stroke="#0b5058" stroke-width="1.8"/>
</g>
<line x1="73.6" y1="19" x2="73.6" y2="352.6" stroke="#000" stroke-width="1.4"/>
<line x1="70" y1="349.3" x2="526" y2="349.3" stroke="#000" stroke-width="1.3"/>
<path d="M70.2,20.2 L77,20.2 L73.6,14.2 Z" fill="#000"/>
<path d="M524.6,345.9 L524.6,352.9 L531.8,349.4 Z" fill="#000"/>
<line x1="71.3" y1="333.5" x2="73.6" y2="333.5" stroke="#000" stroke-width="1"/>
<line x1="70.2" y1="317.5" x2="73.6" y2="317.5" stroke="#000" stroke-width="1"/>
<line x1="71.3" y1="300.5" x2="73.6" y2="300.5" stroke="#000" stroke-width="1"/>
<line x1="70.2" y1="284.5" x2="73.6" y2="284.5" stroke="#000" stroke-width="1"/>
<line x1="71.3" y1="268.5" x2="73.6" y2="268.5" stroke="#000" stroke-width="1"/>
<line x1="70.2" y1="252.5" x2="73.6" y2="252.5" stroke="#000" stroke-width="1"/>
<line x1="71.3" y1="235.5" x2="73.6" y2="235.5" stroke="#000" stroke-width="1"/>
<line x1="70.2" y1="219.5" x2="73.6" y2="219.5" stroke="#000" stroke-width="1"/>
<line x1="71.3" y1="203.5" x2="73.6" y2="203.5" stroke="#000" stroke-width="1"/>
<line x1="70.2" y1="187.5" x2="73.6" y2="187.5" stroke="#000" stroke-width="1"/>
<line x1="71.3" y1="170.5" x2="73.6" y2="170.5" stroke="#000" stroke-width="1"/>
<line x1="70.2" y1="154.5" x2="73.6" y2="154.5" stroke="#000" stroke-width="1"/>
<line x1="71.3" y1="138.5" x2="73.6" y2="138.5" stroke="#000" stroke-width="1"/>
<line x1="70.2" y1="122.5" x2="73.6" y2="122.5" stroke="#000" stroke-width="1"/>
<line x1="71.3" y1="105.5" x2="73.6" y2="105.5" stroke="#000" stroke-width="1"/>
<line x1="70.2" y1="89.5" x2="73.6" y2="89.5" stroke="#000" stroke-width="1"/>
<line x1="71.3" y1="73.5" x2="73.6" y2="73.5" stroke="#000" stroke-width="1"/>
<line x1="70.2" y1="57.5" x2="73.6" y2="57.5" stroke="#000" stroke-width="1"/>
<line x1="71.3" y1="40.5" x2="73.6" y2="40.5" stroke="#000" stroke-width="1"/>
<line x1="70.2" y1="24.5" x2="73.6" y2="24.5" stroke="#000" stroke-width="1"/>
<line x1="73.5" y1="349.4" x2="73.5" y2="352.8" stroke="#000" stroke-width="1"/>
<line x1="95.5" y1="349.4" x2="95.5" y2="351.6" stroke="#000" stroke-width="1"/>
<line x1="118.5" y1="349.4" x2="118.5" y2="352.8" stroke="#000" stroke-width="1"/>
<line x1="140.5" y1="349.4" x2="140.5" y2="351.6" stroke="#000" stroke-width="1"/>
<line x1="162.5" y1="349.4" x2="162.5" y2="352.8" stroke="#000" stroke-width="1"/>
<line x1="185.5" y1="349.4" x2="185.5" y2="351.6" stroke="#000" stroke-width="1"/>
<line x1="207.5" y1="349.4" x2="207.5" y2="352.8" stroke="#000" stroke-width="1"/>
<line x1="229.5" y1="349.4" x2="229.5" y2="351.6" stroke="#000" stroke-width="1"/>
<line x1="252.5" y1="349.4" x2="252.5" y2="352.8" stroke="#000" stroke-width="1"/>
<line x1="274.5" y1="349.4" x2="274.5" y2="351.6" stroke="#000" stroke-width="1"/>
<line x1="297.5" y1="349.4" x2="297.5" y2="352.8" stroke="#000" stroke-width="1"/>
<line x1="319.5" y1="349.4" x2="319.5" y2="351.6" stroke="#000" stroke-width="1"/>
<line x1="341.5" y1="349.4" x2="341.5" y2="352.8" stroke="#000" stroke-width="1"/>
<line x1="364.5" y1="349.4" x2="364.5" y2="351.6" stroke="#000" stroke-width="1"/>
<line x1="386.5" y1="349.4" x2="386.5" y2="352.8" stroke="#000" stroke-width="1"/>
<line x1="408.5" y1="349.4" x2="408.5" y2="351.6" stroke="#000" stroke-width="1"/>
<line x1="431.5" y1="349.4" x2="431.5" y2="352.8" stroke="#000" stroke-width="1"/>
<line x1="453.5" y1="349.4" x2="453.5" y2="351.6" stroke="#000" stroke-width="1"/>
<line x1="475.5" y1="349.4" x2="475.5" y2="352.8" stroke="#000" stroke-width="1"/>
<line x1="498.5" y1="349.4" x2="498.5" y2="351.6" stroke="#000" stroke-width="1"/>
<line x1="520.5" y1="349.4" x2="520.5" y2="352.8" stroke="#000" stroke-width="1"/>
<text x="59.63" y="354.68" font-size="15.6" textLength="8.68" lengthAdjust="spacingAndGlyphs" fill="#161616" font-family="'Liberation Sans', Arial, sans-serif" text-rendering="geometricPrecision" >0</text>
<text x="50.97" y="322.18" font-size="15.6" textLength="17.35" lengthAdjust="spacingAndGlyphs" fill="#161616" font-family="'Liberation Sans', Arial, sans-serif" text-rendering="geometricPrecision" >20</text>
<text x="50.97" y="289.68" font-size="15.6" textLength="17.35" lengthAdjust="spacingAndGlyphs" fill="#161616" font-family="'Liberation Sans', Arial, sans-serif" text-rendering="geometricPrecision" >40</text>
<text x="50.97" y="257.18" font-size="15.6" textLength="17.35" lengthAdjust="spacingAndGlyphs" fill="#161616" font-family="'Liberation Sans', Arial, sans-serif" text-rendering="geometricPrecision" >60</text>
<text x="50.97" y="224.68" font-size="15.6" textLength="17.35" lengthAdjust="spacingAndGlyphs" fill="#161616" font-family="'Liberation Sans', Arial, sans-serif" text-rendering="geometricPrecision" >80</text>
<text x="42.27" y="192.18" font-size="15.6" textLength="26.03" lengthAdjust="spacingAndGlyphs" fill="#161616" font-family="'Liberation Sans', Arial, sans-serif" text-rendering="geometricPrecision" >100</text>
<text x="42.27" y="159.68" font-size="15.6" textLength="26.03" lengthAdjust="spacingAndGlyphs" fill="#161616" font-family="'Liberation Sans', Arial, sans-serif" text-rendering="geometricPrecision" >120</text>
<text x="42.27" y="127.18" font-size="15.6" textLength="26.03" lengthAdjust="spacingAndGlyphs" fill="#161616" font-family="'Liberation Sans', Arial, sans-serif" text-rendering="geometricPrecision" >140</text>
<text x="42.27" y="94.68" font-size="15.6" textLength="26.03" lengthAdjust="spacingAndGlyphs" fill="#161616" font-family="'Liberation Sans', Arial, sans-serif" text-rendering="geometricPrecision" >160</text>
<text x="42.27" y="62.18" font-size="15.6" textLength="26.03" lengthAdjust="spacingAndGlyphs" fill="#161616" font-family="'Liberation Sans', Arial, sans-serif" text-rendering="geometricPrecision" >180</text>
<text x="42.27" y="29.68" font-size="15.6" textLength="26.03" lengthAdjust="spacingAndGlyphs" fill="#161616" font-family="'Liberation Sans', Arial, sans-serif" text-rendering="geometricPrecision" >200</text>
<text x="62.51" y="368.60" font-size="15.6" textLength="22.55" lengthAdjust="spacingAndGlyphs" fill="#161616" font-family="'Liberation Sans', Arial, sans-serif" text-rendering="geometricPrecision" >0%</text>
<text x="102.56" y="368.60" font-size="15.6" textLength="31.22" lengthAdjust="spacingAndGlyphs" fill="#161616" font-family="'Liberation Sans', Arial, sans-serif" text-rendering="geometricPrecision" >10%</text>
<text x="147.42" y="368.60" font-size="15.6" textLength="31.22" lengthAdjust="spacingAndGlyphs" fill="#161616" font-family="'Liberation Sans', Arial, sans-serif" text-rendering="geometricPrecision" >20%</text>
<text x="192.19" y="368.60" font-size="15.6" textLength="31.22" lengthAdjust="spacingAndGlyphs" fill="#161616" font-family="'Liberation Sans', Arial, sans-serif" text-rendering="geometricPrecision" >30%</text>
<text x="236.98" y="368.60" font-size="15.6" textLength="31.22" lengthAdjust="spacingAndGlyphs" fill="#161616" font-family="'Liberation Sans', Arial, sans-serif" text-rendering="geometricPrecision" >40%</text>
<text x="281.51" y="368.60" font-size="15.6" textLength="31.22" lengthAdjust="spacingAndGlyphs" fill="#161616" font-family="'Liberation Sans', Arial, sans-serif" text-rendering="geometricPrecision" >50%</text>
<text x="326.10" y="368.60" font-size="15.6" textLength="31.22" lengthAdjust="spacingAndGlyphs" fill="#161616" font-family="'Liberation Sans', Arial, sans-serif" text-rendering="geometricPrecision" >60%</text>
<text x="370.75" y="368.60" font-size="15.6" textLength="31.22" lengthAdjust="spacingAndGlyphs" fill="#161616" font-family="'Liberation Sans', Arial, sans-serif" text-rendering="geometricPrecision" >70%</text>
<text x="415.50" y="368.60" font-size="15.6" textLength="31.22" lengthAdjust="spacingAndGlyphs" fill="#161616" font-family="'Liberation Sans', Arial, sans-serif" text-rendering="geometricPrecision" >80%</text>
<text x="460.13" y="368.60" font-size="15.6" textLength="31.22" lengthAdjust="spacingAndGlyphs" fill="#161616" font-family="'Liberation Sans', Arial, sans-serif" text-rendering="geometricPrecision" >90%</text>
<text x="500.26" y="368.60" font-size="15.6" textLength="39.90" lengthAdjust="spacingAndGlyphs" fill="#161616" font-family="'Liberation Sans', Arial, sans-serif" text-rendering="geometricPrecision" >100%</text>
<text x="203.42" y="398.40" font-size="15.8" textLength="187.37" lengthAdjust="spacingAndGlyphs" fill="#161616" font-family="'Liberation Sans', Arial, sans-serif" text-rendering="geometricPrecision" >Exceedence probability [%]</text>
<text transform="translate(24.8,0) rotate(-90)" x="-255.86" y="0" font-size="15.8" textLength="136.65" lengthAdjust="spacingAndGlyphs" fill="#161616" font-family="'Liberation Sans', Arial, sans-serif" text-rendering="geometricPrecision">Duration [days/year]</text>
<rect x="268.5" y="29.5" width="246" height="130" fill="#fff" stroke="#222" stroke-width="1"/>
<text x="304.66" y="47.50" font-size="14.9" textLength="199.25" lengthAdjust="spacingAndGlyphs" fill="#161616" font-family="'Liberation Sans', Arial, sans-serif" text-rendering="geometricPrecision" >Annual duration of drought 80%</text>
<text x="304.66" y="67.50" font-size="14.9" textLength="199.45" lengthAdjust="spacingAndGlyphs" fill="#161616" font-family="'Liberation Sans', Arial, sans-serif" text-rendering="geometricPrecision" >Annual duration of drought 90%</text>
<text x="304.66" y="89.40" font-size="14.9" textLength="199.45" lengthAdjust="spacingAndGlyphs" fill="#161616" font-family="'Liberation Sans', Arial, sans-serif" text-rendering="geometricPrecision" >Annual duration of drought 95%</text>
<text x="304.14" y="112.90" font-size="14.9" textLength="68.18" lengthAdjust="spacingAndGlyphs" fill="#161616" font-family="'Liberation Sans', Arial, sans-serif" text-rendering="geometricPrecision" >Pearson III</text>
<text x="304.00" y="132.20" font-size="14.9" textLength="76.07" lengthAdjust="spacingAndGlyphs" fill="#161616" font-family="'Liberation Sans', Arial, sans-serif" text-rendering="geometricPrecision" >Log-Normal</text>
<text x="304.83" y="150.50" font-size="14.9" textLength="47.47" lengthAdjust="spacingAndGlyphs" fill="#161616" font-family="'Liberation Sans', Arial, sans-serif" text-rendering="geometricPrecision" >Weibull</text>
<rect x="285.20" y="40.40" width="6" height="6" fill="#484848" stroke="#000" stroke-width="1"/>
<path d="M288.20,60.25 L291.45,63.50 L288.20,66.75 L284.95,63.50 Z" fill="#484848" stroke="#111" stroke-width="0.9"/>
<path d="M288.20,82.80 L291.20,88.20 L285.20,88.20 Z" fill="#484848" stroke="#000" stroke-width="0.9"/>
<line x1="277.5" y1="108.6" x2="299.7" y2="108.6" stroke="#000" stroke-width="2"/>
<line x1="277.5" y1="127.6" x2="300" y2="127.6" stroke="#555" stroke-width="1.3" stroke-dasharray="2 2"/>
<line x1="277.6" y1="146.6" x2="300" y2="146.6" stroke="#555" stroke-width="1.3" stroke-dasharray="8 2 2 3.5"/>
</svg>
</body></html>
